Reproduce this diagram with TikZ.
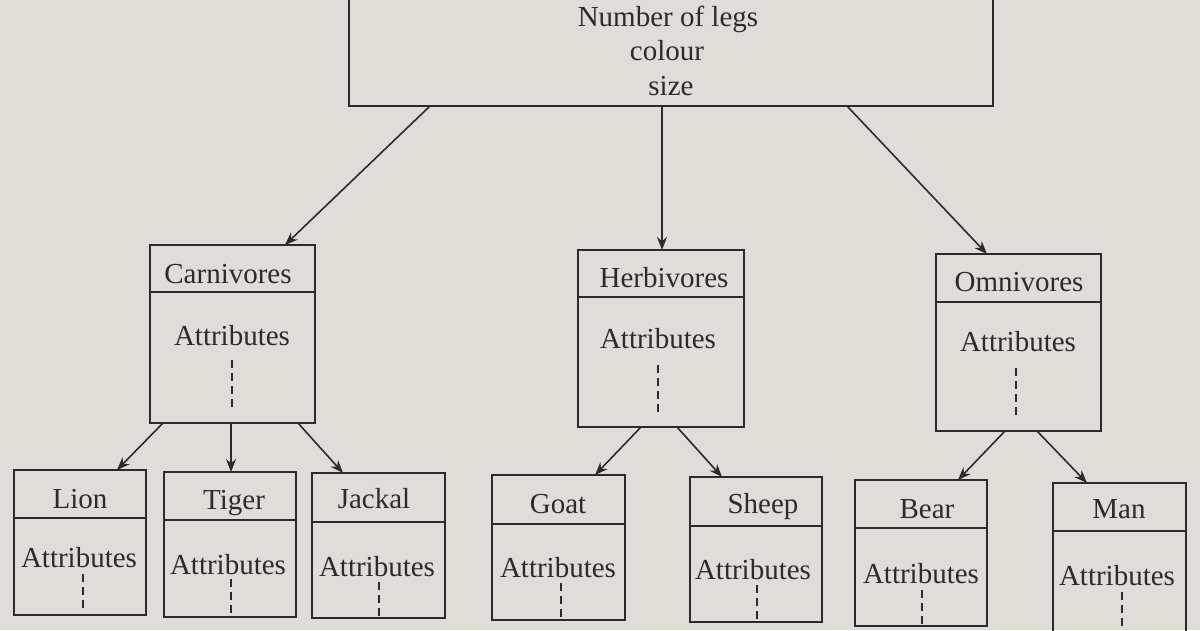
\documentclass[tikz,border=0pt]{standalone}
\usepackage{fontspec}
\setmainfont{Liberation Serif}
\usetikzlibrary{arrows.meta}
\definecolor{paper}{RGB}{223,221,216}
\definecolor{ink}{RGB}{45,43,42}
\tikzset{
  box/.style={draw=ink, line width=1.8pt, inner sep=0pt, outer sep=0pt, rectangle},
  divider/.style={draw=ink, line width=1.6pt},
  lbl/.style={text=ink, inner sep=0pt, anchor=base, font=\fontsize{29}{35}\selectfont},
  dsh/.style={draw=ink, line width=1.6pt, dash pattern=on 8pt off 5pt},
  arr/.style={draw=ink, line width=1.6pt, -{Stealth[length=13pt,width=10pt]}}
}
\newcommand\classbox[6]{%
  \node[box, anchor=north west, minimum width={#4-#2}, minimum height={#6-#3}] (#1) at (#2,#3) {};
  \draw[divider] (#2,#5) -- (#4,#5);
}
\begin{document}
\begin{tikzpicture}[x=1pt,y=-1pt]
\fill[paper] (0,0) rectangle (1200,630);
\useasboundingbox (0,0) rectangle (1200,630);
\clip (0,0) rectangle (1200,630);

% top box
\node[box, anchor=south west, minimum width=644, minimum height=130] (top) at (349,106) {};
\node[lbl] (t1) at (668,26) {Number of legs};
\node[lbl] (t2) at (667,60) {colour};
\node[lbl] (t3) at (671,95) {size};

% second level
\classbox{carn}{150}{245}{315}{292}{423}
\node[lbl] (carnT) at (228,283) {Carnivores};
\node[lbl] (carnA) at (232,345) {Attributes};
\draw[dsh] (232,360) -- (232,410);

\classbox{herb}{578}{250}{744}{297}{427}
\node[lbl] (herbT) at (664,287) {Herbivores};
\node[lbl] (herbA) at (658,348) {Attributes};
\draw[dsh] (658,365) -- (658,415);

\classbox{omni}{936}{254}{1101}{302}{431}
\node[lbl] (omniT) at (1019,291) {Omnivores};
\node[lbl] (omniA) at (1018,351) {Attributes};
\draw[dsh] (1016,368) -- (1016,418);

% third level
\classbox{lion}{14}{470}{146}{518}{615}
\node[lbl] (lionT) at (80,508) {Lion};
\node[lbl] (lionA) at (79,567) {Attributes};
\draw[dsh] (83,574) -- (83,610);

\classbox{tiger}{164}{472}{296}{520}{617}
\node[lbl] (tigerT) at (234,509) {Tiger};
\node[lbl] (tigerA) at (228,574) {Attributes};
\draw[dsh] (231,579) -- (231,615);

\classbox{jackal}{312}{473}{445}{522}{618}
\node[lbl] (jackalT) at (374,508) {Jackal};
\node[lbl] (jackalA) at (377,576) {Attributes};
\draw[dsh] (379,582) -- (379,616);

\classbox{goat}{492}{475}{625}{524}{620}
\node[lbl] (goatT) at (558,513) {Goat};
\node[lbl] (goatA) at (558,577) {Attributes};
\draw[dsh] (561,583) -- (561,618);

\classbox{sheep}{690}{477}{822}{526}{622}
\node[lbl] (sheepT) at (763,513) {Sheep};
\node[lbl] (sheepA) at (753,579) {Attributes};
\draw[dsh] (757,585) -- (757,620);

\classbox{bear}{855}{480}{987}{528}{626}
\node[lbl] (bearT) at (927,518) {Bear};
\node[lbl] (bearA) at (921,583) {Attributes};
\draw[dsh] (922,590) -- (922,624);

\classbox{man}{1053}{483}{1186}{531}{634}
\node[lbl] (manT) at (1119,518) {Man};
\node[lbl] (manA) at (1117,585) {Attributes};
\draw[dsh] (1122,592) -- (1122,630);

% connectors
\draw[arr] ([xshift=-241pt]top.south) -- ([xshift=52.5pt]carn.north);
\draw[arr] ([xshift=-9pt]top.south) -- ([xshift=1pt]herb.north);
\draw[arr] ([xshift=176pt]top.south) -- ([xshift=-31.5pt]omni.north);

\draw[arr] ([xshift=-69.5pt]carn.south) -- ([xshift=37pt]lion.north);
\draw[arr] ([xshift=-1.5pt]carn.south) -- ([xshift=1pt]tiger.north);
\draw[arr] ([xshift=65.5pt]carn.south) -- ([xshift=-35.5pt]jackal.north);

\draw[arr] ([xshift=-20pt]herb.south) -- ([xshift=36.5pt]goat.north);
\draw[arr] ([xshift=16pt]herb.south) -- ([xshift=-34pt]sheep.north);

\draw[arr] ([xshift=-13.5pt]omni.south) -- ([xshift=37pt]bear.north);
\draw[arr] ([xshift=18.5pt]omni.south) -- ([xshift=-32.5pt]man.north);
\end{tikzpicture}
\end{document}
